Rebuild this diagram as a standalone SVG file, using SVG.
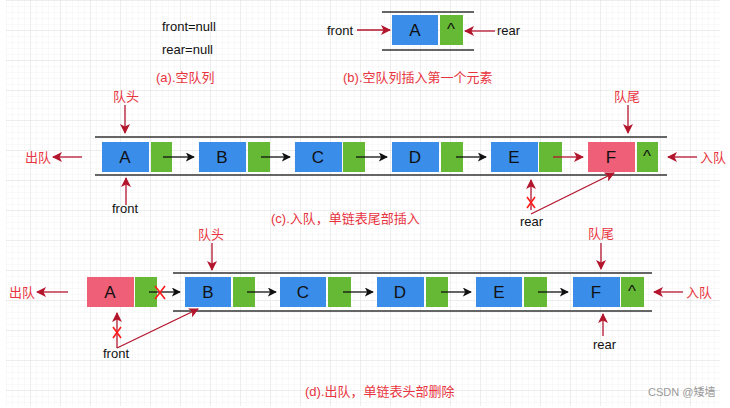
<svg xmlns="http://www.w3.org/2000/svg" width="730" height="408" viewBox="0 0 730 408">
<defs>
<pattern id="gridS" width="6" height="6" patternUnits="userSpaceOnUse"><path d="M6 0H0V6" fill="none" stroke="#ebebeb" stroke-width="0.6"/></pattern>
<pattern id="gridL" width="30" height="30" patternUnits="userSpaceOnUse"><rect width="30" height="30" fill="url(#gridS)"/><path d="M30 0H0V30" fill="none" stroke="#dddddd" stroke-width="0.8"/></pattern>
<marker id="ak" viewBox="0 0 10 10" refX="9" refY="5" markerWidth="9" markerHeight="9" markerUnits="userSpaceOnUse" orient="auto"><path d="M0 0L10 5L0 10L2.5 5Z" fill="#111"/></marker>
<marker id="ar" viewBox="0 0 10 10" refX="9" refY="5" markerWidth="10" markerHeight="10" markerUnits="userSpaceOnUse" orient="auto"><path d="M0 0L10 5L0 10L2.5 5Z" fill="#b3152d"/></marker>
</defs>
<style>
.bl{fill:#3a8de8}.gr{fill:#66b934}.pk{fill:#ef5f78}
.t{font-family:"Liberation Sans",Arial,sans-serif;fill:#111;font-size:13px}
.nt{font-size:17px;text-anchor:middle}
.lb{font-family:"Liberation Sans","Noto Sans CJK SC",sans-serif;fill:#e8343e;font-size:13px}
.rail{stroke:#333;stroke-width:1.5}
.ck{stroke:#111;stroke-width:1.3;fill:none;marker-end:url(#ak)}
.cr{stroke:#b3152d;stroke-width:1.3;fill:none;marker-end:url(#ar)}
.x{stroke:#ff1a1a;stroke-width:1.6;fill:none}
</style>
<rect width="730" height="408" fill="#fff"/>
<rect x="6" y="0" width="714" height="406" fill="url(#gridL)"/>

<g id="panel-a">
<text class="t" x="162" y="31">front=null</text>
<text class="t" x="162" y="54">rear=null</text>
<text class="lb" x="156" y="82">(a).空队列</text>
</g>

<g id="panel-b">
<line class="rail" x1="382" y1="12" x2="474" y2="12"/>
<line class="rail" x1="382" y1="50" x2="474" y2="50"/>
<g id="b-nodeA"><rect class="bl" x="392" y="15" width="46" height="30"/><rect class="gr" x="440" y="15" width="23" height="30"/>
<text class="t nt" x="415" y="36">A</text><text class="t nt" x="451" y="35" font-size="14">^</text></g>
<text class="t" x="327" y="35">front</text>
<text class="t" x="497" y="35">rear</text>
<text class="lb" x="343" y="82">(b).空队列插入第一个元素</text>
</g>

<g id="panel-c">
<line class="rail" x1="95" y1="137" x2="667" y2="137"/>
<line class="rail" x1="95" y1="175" x2="667" y2="175"/>
<g id="c-A"><rect class="bl" x="102" y="142" width="47" height="30"/><rect class="gr" x="151" y="142" width="21" height="30"/><text class="t nt" x="125" y="163">A</text></g>
<g id="c-B"><rect class="bl" x="199" y="142" width="47" height="30"/><rect class="gr" x="248" y="142" width="22" height="30"/><text class="t nt" x="222" y="163">B</text></g>
<g id="c-C"><rect class="bl" x="295" y="142" width="47" height="30"/><rect class="gr" x="343" y="142" width="22" height="30"/><text class="t nt" x="318" y="163">C</text></g>
<g id="c-D"><rect class="bl" x="392" y="142" width="47" height="30"/><rect class="gr" x="441" y="142" width="22" height="30"/><text class="t nt" x="415" y="163">D</text></g>
<g id="c-E"><rect class="bl" x="491" y="142" width="47" height="30"/><rect class="gr" x="539" y="142" width="23" height="30"/><text class="t nt" x="514" y="163">E</text></g>
<g id="c-F"><rect class="pk" x="588" y="142" width="47" height="30"/><rect class="gr" x="637" y="142" width="21" height="30"/><text class="t nt" x="611" y="163">F</text><text class="t nt" x="647" y="162" font-size="14">^</text></g>
<text class="lb" x="113" y="101">队头</text>
<text class="lb" x="614" y="101">队尾</text>
<text class="lb" x="25" y="162">出队</text>
<text class="lb" x="700" y="162">入队</text>
<text class="t" x="112" y="213">front</text>
<text class="t" x="520" y="226">rear</text>
<text class="lb" x="271" y="223">(c).入队，单链表尾部插入</text>
</g>

<g id="panel-d">
<line class="rail" x1="173" y1="273" x2="652" y2="273"/>
<line class="rail" x1="173" y1="311" x2="652" y2="311"/>
<g id="d-A"><rect class="pk" x="87" y="277" width="47" height="30"/><rect class="gr" x="135" y="277" width="22" height="30"/><text class="t nt" x="110" y="298">A</text></g>
<g id="d-B"><rect class="bl" x="185" y="277" width="46" height="30"/><rect class="gr" x="233" y="277" width="22" height="30"/><text class="t nt" x="208" y="298">B</text></g>
<g id="d-C"><rect class="bl" x="280" y="277" width="46" height="30"/><rect class="gr" x="328" y="277" width="23" height="30"/><text class="t nt" x="303" y="298">C</text></g>
<g id="d-D"><rect class="bl" x="377" y="277" width="47" height="30"/><rect class="gr" x="426" y="277" width="22" height="30"/><text class="t nt" x="400" y="298">D</text></g>
<g id="d-E"><rect class="bl" x="476" y="277" width="46" height="30"/><rect class="gr" x="524" y="277" width="23" height="30"/><text class="t nt" x="499" y="298">E</text></g>
<g id="d-F"><rect class="bl" x="573" y="277" width="47" height="30"/><rect class="gr" x="621" y="277" width="23" height="30"/><text class="t nt" x="596" y="298">F</text><text class="t nt" x="632" y="297" font-size="14">^</text></g>
<text class="lb" x="198" y="239">队头</text>
<text class="lb" x="588" y="238">队尾</text>
<text class="lb" x="9" y="297">出队</text>
<text class="lb" x="686" y="297">入队</text>
<text class="t" x="103" y="358">front</text>
<text class="t" x="593" y="349">rear</text>
<text class="lb" x="305" y="396">(d).出队，单链表头部删除</text>
</g>

<g id="connectors">
<line class="cr" x1="357" y1="30" x2="390" y2="30"/>
<line class="cr" x1="495" y1="31" x2="465" y2="31"/>

<line class="cr" x1="125" y1="105" x2="125" y2="133"/>
<line class="cr" x1="628" y1="105" x2="628" y2="133"/>
<line class="cr" x1="82" y1="157" x2="53" y2="157"/>
<line class="cr" x1="697" y1="157" x2="668" y2="157"/>
<line class="cr" x1="126" y1="205" x2="126" y2="178"/>
<line class="ck" x1="163" y1="157" x2="194" y2="157"/>
<line class="ck" x1="261" y1="157" x2="290" y2="157"/>
<line class="ck" x1="356" y1="157" x2="387" y2="157"/>
<line class="ck" x1="456" y1="157" x2="486" y2="157"/>
<line class="cr" x1="553" y1="157" x2="583" y2="157"/>
<line class="cr" x1="531" y1="210" x2="531" y2="180"/>
<path class="x" d="M527 197L535 208M535 197L527 208"/>
<line class="cr" x1="531" y1="214" x2="614" y2="173"/>

<line class="cr" x1="212" y1="243" x2="212" y2="270"/>
<line class="cr" x1="601" y1="243" x2="601" y2="269"/>
<line class="cr" x1="68" y1="292" x2="37" y2="292"/>
<line class="cr" x1="683" y1="292" x2="654" y2="292"/>
<line class="ck" x1="149" y1="292" x2="180" y2="292"/>
<path class="x" d="M155 286L165 299M165 286L155 299"/>
<line class="ck" x1="247" y1="292" x2="276" y2="292"/>
<line class="ck" x1="343" y1="292" x2="373" y2="292"/>
<line class="ck" x1="441" y1="292" x2="471" y2="292"/>
<line class="ck" x1="538" y1="292" x2="568" y2="292"/>
<line class="cr" x1="603" y1="336" x2="603" y2="314"/>
<line class="cr" x1="117" y1="348" x2="117" y2="313"/>
<path class="x" d="M113 327L121 338M121 327L113 338"/>
<line class="cr" x1="117" y1="348" x2="198" y2="309"/>
</g>

<text x="648" y="396" font-family="'Liberation Sans','Noto Sans CJK SC',sans-serif" font-size="11" fill="#999">CSDN @矮墙</text>
</svg>
